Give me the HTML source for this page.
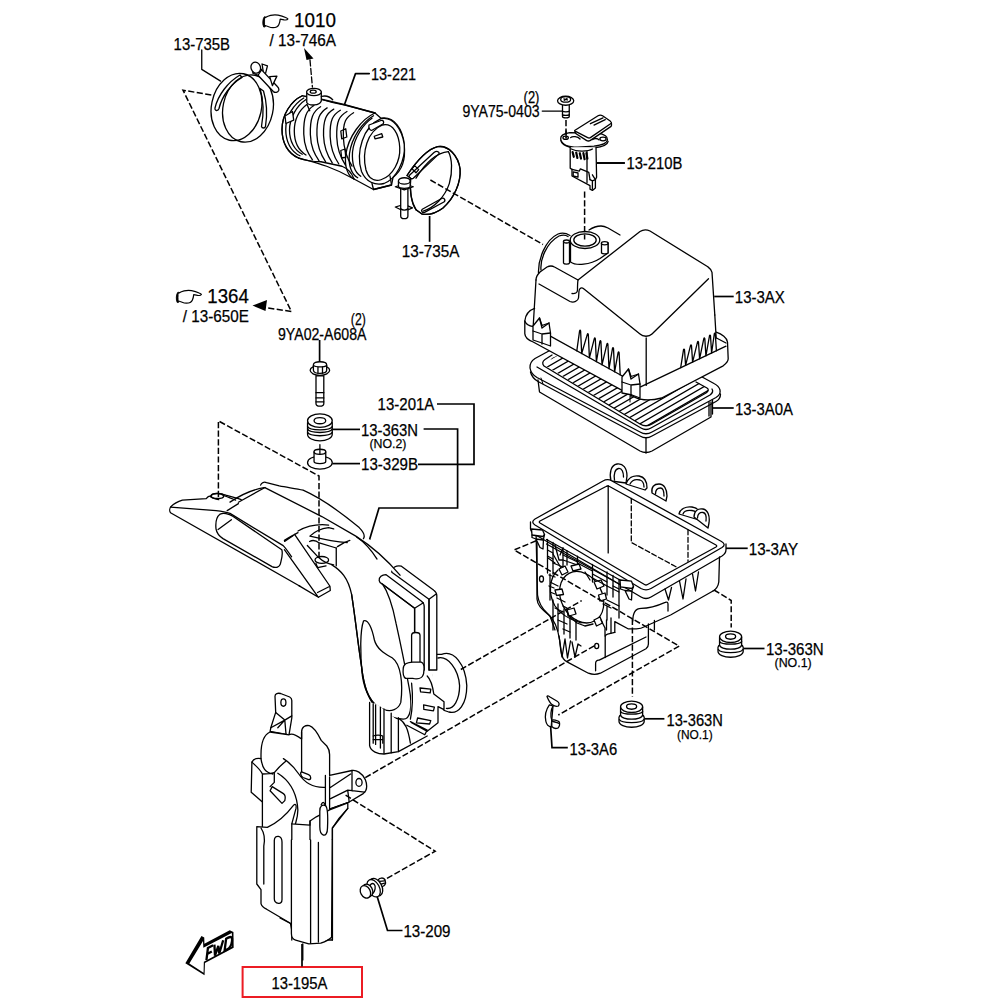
<!DOCTYPE html>
<html><head><meta charset="utf-8"><style>
html,body{margin:0;padding:0;background:#fff;}
svg{display:block;}
path,ellipse,circle,rect,line,polyline,polygon{vector-effect:non-scaling-stroke;}
text{font-family:"Liberation Sans",sans-serif;fill:#000;}
</style></head><body>
<svg width="1000" height="1000" viewBox="0 0 1000 1000">
<g id="labels" font-size="16" style="stroke:#000;stroke-width:0.25">
<text x="173.6" y="49.6" textLength="56.4" lengthAdjust="spacingAndGlyphs">13-735B</text>
<text x="294" y="27" font-size="20.8" textLength="42" lengthAdjust="spacingAndGlyphs">1010</text>
<text x="269.6" y="45.6" textLength="66.4" lengthAdjust="spacingAndGlyphs">/ 13-746A</text>
<text x="371" y="80" textLength="45" lengthAdjust="spacingAndGlyphs">13-221</text>
<text x="523.6" y="103" textLength="15.8" lengthAdjust="spacingAndGlyphs">(2)</text>
<text x="462.4" y="117" textLength="77.2" lengthAdjust="spacingAndGlyphs">9YA75-0403</text>
<text x="626.4" y="168.8" textLength="56" lengthAdjust="spacingAndGlyphs">13-210B</text>
<text x="401.8" y="257" textLength="57.6" lengthAdjust="spacingAndGlyphs">13-735A</text>
<text x="734.8" y="303.2" textLength="50" lengthAdjust="spacingAndGlyphs">13-3AX</text>
<text x="207.3" y="302.9" font-size="20.8" textLength="41.5" lengthAdjust="spacingAndGlyphs">1364</text>
<text x="182.8" y="321.6" textLength="66" lengthAdjust="spacingAndGlyphs">/ 13-650E</text>
<text x="350.8" y="324.6" textLength="15" lengthAdjust="spacingAndGlyphs">(2)</text>
<text x="278" y="339.6" textLength="88.4" lengthAdjust="spacingAndGlyphs">9YA02-A608A</text>
<text x="377.6" y="410" textLength="56.8" lengthAdjust="spacingAndGlyphs">13-201A</text>
<text x="735" y="414.5" textLength="58" lengthAdjust="spacingAndGlyphs">13-3A0A</text>
<text x="361" y="436.4" textLength="57" lengthAdjust="spacingAndGlyphs">13-363N</text>
<text x="369.4" y="448" font-size="13.5" textLength="37" lengthAdjust="spacingAndGlyphs">(NO.2)</text>
<text x="361" y="470.4" textLength="57" lengthAdjust="spacingAndGlyphs">13-329B</text>
<text x="748.7" y="554.7" textLength="49.5" lengthAdjust="spacingAndGlyphs">13-3AY</text>
<text x="766" y="654.8" textLength="57.7" lengthAdjust="spacingAndGlyphs">13-363N</text>
<text x="774.5" y="667" font-size="13.5" textLength="37.2" lengthAdjust="spacingAndGlyphs">(NO.1)</text>
<text x="666.5" y="725.8" textLength="56.3" lengthAdjust="spacingAndGlyphs">13-363N</text>
<text x="677" y="738.6" font-size="13.5" textLength="35.7" lengthAdjust="spacingAndGlyphs">(NO.1)</text>
<text x="569.5" y="754.5" textLength="47.6" lengthAdjust="spacingAndGlyphs">13-3A6</text>
<text x="403.4" y="936.5" textLength="47.1" lengthAdjust="spacingAndGlyphs">13-209</text>
<text x="271.4" y="989" textLength="56.1" lengthAdjust="spacingAndGlyphs">13-195A</text>
</g>
<rect x="242.6" y="967" width="119.4" height="30" fill="none" stroke="#ec1c24" stroke-width="2"/>
<g id="leaders" fill="none" stroke="#000" stroke-width="1.7">
<path d="M597 163H624.8"/>
<path d="M429.6 216V241.8"/>
<path d="M319.6 340V362"/>
<path d="M437 404H474V464.4H418"/>
<path d="M333 429.4H360"/>
<path d="M423.6 429H457.6V508H379L369.5 539.7"/>
<path d="M332.4 463.6H360"/>
<path d="M714.2 296.5H733.7"/>
<path d="M712.7 408H733.7"/>
<path d="M725.5 548.3H747.7"/>
<path d="M743.5 648.5H764.5"/>
<path d="M644.4 718.8H664.4"/>
<path d="M550.6 726L552 747.6H567.8"/>
<path d="M377 896L387.5 930.5H402.5"/>
<path d="M302 944V966.5"/>
<path d="M597 163H624.8"/>
</g>

<g id="parts" fill="none" stroke="#000" stroke-width="1.3" stroke-linejoin="round" stroke-linecap="round">
<!-- hand icons -->
<g id="hand1" transform="translate(262.6 16.5)">
<path d="M1.6 0.4C0 2 -0.4 8 1.2 10.6L2.7 10.2C2 8 2 3 2.7 0.8Z" fill="#000" stroke-width="0.9"/>
<path d="M2.5 1.1C4 0.3 6 -0.6 8 -1.1C10 -1.6 13 -1.7 15.5 -1.4C18 -1 21 0 23 1C24.5 1.6 25.5 2.2 25.2 2.6C24.8 3.4 23.5 3.7 21.5 3.4L17.6 2.6C17.5 4 17 6.5 16.2 8.3C15.5 9.8 13 11.2 10.4 11.2C8 11.2 6 10.2 4.7 9.7L2.5 9" fill="#fff" stroke-width="1.2"/>
</g>
<g id="hand2" transform="translate(176.1 292)">
<path d="M1.6 0.4C0 2 -0.4 8 1.2 10.6L2.7 10.2C2 8 2 3 2.7 0.8Z" fill="#000" stroke-width="0.9"/>
<path d="M2.5 1.1C4 0.3 6 -0.6 8 -1.1C10 -1.6 13 -1.7 15.5 -1.4C18 -1 21 0 23 1C24.5 1.6 25.5 2.2 25.2 2.6C24.8 3.4 23.5 3.7 21.5 3.4L17.6 2.6C17.5 4 17 6.5 16.2 8.3C15.5 9.8 13 11.2 10.4 11.2C8 11.2 6 10.2 4.7 9.7L2.5 9" fill="#fff" stroke-width="1.2"/>
</g>
<!-- clamp 13-735B -->
<g id="clampB">
<path d="M201.75 50V69.4L220.6 81.1"/>
<ellipse cx="236.5" cy="107" rx="25" ry="34" transform="rotate(12 236.5 107)"/>
<ellipse cx="248" cy="108.5" rx="25" ry="34" transform="rotate(12 248 108.5)"/>
<path d="M240 75C228 82 218 95 215 108C214.5 111 218 111.5 219 108.5C222 96 231 84 242 77.5Z"/>
<path d="M260 88.5C263.5 100 263.8 114 261.5 126.5C262 128.5 265 128.5 265.5 126.5C267.5 114 266.5 101 263.5 91Z"/>
<g transform="translate(195 55) scale(0.09)">
<path d="M745 100L805 120L770 260Z" fill="#fff"/>
<path d="M640 200L700 225L870 405C890 425 920 415 930 395C935 380 930 365 915 350L740 165L690 120Z" fill="#fff"/>
<path d="M830 240L910 235L860 340Z" fill="#fff"/>
<path d="M700 225L740 165"/>
<ellipse cx="675" cy="140" rx="52" ry="62" transform="rotate(-20 675 140)" fill="#fff"/>
</g>
</g>
<!-- 13-746A arrow -->
<path d="M304 48L306.5 60L313.5 58.5Z" fill="#000" stroke="none"/>
<path d="M310 60L312.4 87" stroke-dasharray="6 2.5"/>
<!-- hose 13-221 -->
<g id="hose">
<path d="M369.2 73.6H355.5L344.7 104" stroke-width="1.7"/>
<g transform="translate(270 80) scale(0.15)">
<path d="M215 105C140 140 80 230 80 330C80 420 120 490 190 520C300 550 400 570 560 660L690 730L810 700L820 650C880 600 905 540 895 430C885 330 830 240 740 255L700 220L500 165L350 130Z" fill="#fff"/>
<path d="M215 105C140 140 80 230 80 330C80 420 120 490 190 520"/>
<path d="M225 120C160 160 105 240 105 330C105 410 140 480 200 505"/>
<path d="M240 130C180 170 130 250 130 335C130 410 165 470 215 495"/>
<path d="M250 160C195 200 162 265 162 340C162 410 192 470 240 500"/>
<path d="M190 520C230 535 290 545 340 545L480 575C520 590 545 620 560 660"/>
<path d="M100 240L150 210L158 268L106 290Z" fill="#fff"/>
<path d="M345 130C400 148 450 160 500 168L700 220"/>
<path d="M293 170C243 200 222 250 225 360C228 445 253 487 283 532"/>
<path d="M337 178C287 208 266 254 269 364C272 449 297 494 327 539"/>
<path d="M381 186C331 216 310 258 313 368C316 453 341 501 371 546"/>
<path d="M425 194C375 224 354 262 357 372C360 457 385 508 415 553"/>
<path d="M469 202C419 232 398 266 401 376C404 461 429 515 459 560"/>
<path d="M513 210C463 240 442 270 445 380C448 465 473 522 503 567"/>
<path d="M557 218C507 248 486 274 489 384C492 469 517 529 547 574"/>
<path d="M472 340L505 325L512 380L478 392Z"/>
<path d="M472 470L500 460L505 515L478 520Z"/>
<path d="M700 220C610 260 520 380 505 500C495 580 520 640 560 660"/>
<path d="M690 238C620 278 545 380 530 490C520 570 545 630 585 652"/>
<path d="M680 255C625 290 560 385 550 480C545 560 565 615 605 642"/>
<path d="M610 610C570 480 620 310 740 258C820 240 880 330 895 430C905 540 840 660 760 690C700 705 640 680 610 610Z" fill="#fff"/>
<path d="M640 600C610 480 650 340 750 300C820 285 860 360 865 450C870 540 820 640 740 665C690 680 655 650 640 600Z"/>
<path d="M680 690L690 730L810 700L800 640"/>
<path d="M660 300L740 270C755 265 762 278 755 292L680 335C668 340 655 320 660 300Z" fill="#fff"/>
<path d="M695 375L745 358L752 380L700 392Z" fill="#fff"/>
<path d="M245 80V150C260 175 330 172 342 140V80" fill="#fff"/>
<path d="M250 170L265 205M342 110C370 102 400 112 418 132"/>
<ellipse cx="293" cy="80" rx="49" ry="24" fill="#fff"/>
<ellipse cx="288" cy="78" rx="20" ry="10"/>
</g>
</g>
<!-- clamp 13-735A -->
<g id="clampA" transform="translate(380 135) scale(0.09)">
<path d="M300 450C400 300 520 160 640 130C760 110 870 230 890 380C900 520 830 700 700 810C620 870 540 890 470 880L400 830C350 760 330 640 340 480Z" fill="#fff"/>
<path d="M300 450C400 300 520 160 640 130C760 110 870 230 890 380C900 520 830 700 700 810C620 870 540 890 470 880L400 830"/>
<path d="M760 185C800 260 810 400 770 540C720 690 600 810 480 845"/>
<path d="M400 480C480 350 600 200 760 185"/>
<path d="M325 450L600 195C625 175 665 180 655 210L370 480C350 495 315 475 325 450Z"/>
<path d="M385 340L430 385L400 420L355 375Z"/>
<path d="M470 825L685 705C710 690 735 725 710 745L495 860C470 870 450 840 470 825Z"/>
<path d="M340 480C330 600 335 720 400 830"/>
<path d="M170 800L270 770L360 810L270 850Z" fill="#fff"/>
<path d="M230 600V900C230 940 310 940 310 900V600" fill="#fff"/>
<path d="M230 820C250 840 290 840 310 820"/>
<path d="M170 575L270 545L370 575L270 610Z" fill="#fff"/>
<path d="M205 510V570C205 600 335 600 335 570V510" fill="#fff"/>
<ellipse cx="270" cy="510" rx="65" ry="35" fill="#fff"/>
</g>



<!-- screw 9YA75-0403 + sensor 13-210B (zoom 540,85 s11.11) -->
<g id="sensor" transform="translate(540 85) scale(0.09)">
<path d="M25 290H250"/>
<path d="M250 210V350C250 370 325 370 325 350V210" fill="#fff"/>
<path d="M250 290C260 300 315 300 325 290M250 330C260 340 315 340 325 330"/>
<ellipse cx="285" cy="175" rx="90" ry="50" fill="#fff"/>
<ellipse cx="285" cy="160" rx="55" ry="30"/>
<path d="M265 155L305 165M300 150L270 170"/>
<path d="M232 612C237 662 322 702 422 707L602 697C702 687 752 662 757 627" fill="#fff"/>
<path d="M230 600C225 560 270 540 330 530L640 535C720 545 755 575 750 610C745 650 690 670 600 680L420 690C320 690 240 660 230 600Z" fill="#fff"/>
<ellipse cx="285" cy="585" rx="30" ry="18"/>
<ellipse cx="700" cy="600" rx="35" ry="20"/>
<path d="M290 590V510"/>
<path d="M340 585C360 565 420 570 445 600M585 605C600 590 640 590 655 610"/>
<path d="M385 505L645 342C660 333 680 333 695 342L780 400C795 410 798 425 795 445L790 460L560 615C545 625 530 625 515 615L405 545C395 535 385 520 385 505Z" fill="#fff"/>
<path d="M395 515L530 585C540 590 550 590 560 585L788 428"/>
<path d="M560 430L700 365M600 445L725 385"/>
<path d="M360 740L380 790M400 750L415 800M440 755L455 805M480 760L492 810" stroke-width="2"/>
</g>
<g id="sensor2" transform="translate(530 140) scale(0.12)">
<path d="M335 60V235L350 245V300L500 380V410L520 420L545 400V330L555 310L550 60" fill="#fff"/>
<path d="M345 75C380 95 480 100 520 75M475 95V355"/>
<path d="M355 100L365 140M385 105L395 150M415 110L425 155M445 110L455 160M470 110L478 155" stroke-width="2.2"/>
<path d="M350 245L410 260L420 240L490 270L500 330M360 265V300L400 310V275Z"/>
<path d="M500 330L520 340V410M520 340L545 330"/>
<path d="M545 330L520 290"/>
</g>
<!-- filter 13-3A0A -->
<g id="filter">
<clipPath id="fclip"><path d="M546,366 L640,424 Q646,427.5 652,424 L706,393 Q710,390 707,388 L612,331 L552,358Z"/></clipPath>
<path d="M547,352 L535,358.5 Q529.5,362 530,368 Q531,374 537,377.5 L640,432 Q646,435.5 652,432 L716,397.5 Q721,394.5 720,390 Q719,386 714,383.5 L660,354 L560,345Z" fill="#fff"/>
<path d="M530.5,372 Q532,378 538,381.5 L640,436 Q646,439.5 652,436 L716,401.5 Q720.5,399 720.5,394"/>
<path d="M538,380 L539.5,392 L640,451 Q646,454 652,451 L711,417 L711,402"/>
<path d="M646,438 V453"/>
<path d="M709,402V416M712.5,400V414"/>
<path d="M552,355 L545,359.5 Q541,362.5 544,366 L640,424 Q646,427.5 652,424 L706,393 Q710,390 707,388 L696,382"/>
<path d="M537,367 L641,428 Q646,431 651,428 L710,395 Q714,392 712,389"/>
<path clip-path="url(#fclip)" d="M434.0 359.2L574.0 278.0M439.2 362.3L579.2 281.1M444.4 365.4L584.4 284.2M449.6 368.6L589.6 287.4M454.8 371.7L594.8 290.5M460.0 374.8L600.0 293.6M465.2 377.9L605.2 296.7M470.4 381.0L610.4 299.8M475.6 384.2L615.6 303.0M480.8 387.3L620.8 306.1M486.0 390.4L626.0 309.2M491.2 393.5L631.2 312.3M496.4 396.6L636.4 315.4M501.6 399.8L641.6 318.6M506.8 402.9L646.8 321.7M512.0 406.0L652.0 324.8M517.2 409.1L657.2 327.9M522.4 412.2L662.4 331.0M527.6 415.4L667.6 334.2M532.8 418.5L672.8 337.3M538.0 421.6L678.0 340.4M543.2 424.7L683.2 343.5M548.4 427.8L688.4 346.6M553.6 431.0L693.6 349.8M558.8 434.1L698.8 352.9M564.0 437.2L704.0 356.0M569.2 440.3L709.2 359.1M574.4 443.4L714.4 362.2M579.6 446.6L719.6 365.4M584.8 449.7L724.8 368.5M590.0 452.8L730.0 371.6M595.2 455.9L735.2 374.7M600.4 459.0L740.4 377.8M605.6 462.2L745.6 381.0M610.8 465.3L750.8 384.1M616.0 468.4L756.0 387.2M621.2 471.5L761.2 390.3M626.4 474.6L766.4 393.4M631.6 477.8L771.6 396.6M636.8 480.9L776.8 399.7M642.0 484.0L782.0 402.8M647.2 487.1L787.2 405.9M652.4 490.2L792.4 409.0M657.6 493.4L797.6 412.2M662.8 496.5L802.8 415.3"/>
</g>
<!-- cover inlet -->
<g id="coverTop" transform="translate(520 220) scale(0.1)">
<path d="M185 530C180 400 250 200 380 140C420 125 460 130 500 155" fill="#fff"/>
<path d="M210 500C200 400 260 230 390 160C430 145 460 150 480 165"/>
<path d="M690 100C720 80 760 60 810 60C840 60 860 70 880 80L1000 150" />
<path d="M505 200V420C560 460 700 450 800 385L880 330V230" fill="#fff"/>
<ellipse cx="650" cy="200" rx="148" ry="85" fill="#fff"/>
<ellipse cx="650" cy="200" rx="112" ry="62"/>
<path d="M435 215V430C440 445 490 445 495 430V215Z" fill="#fff"/>
<ellipse cx="465" cy="215" rx="30" ry="15" fill="#fff"/>
<path d="M815 230V330C830 345 870 340 880 330V230" fill="#fff"/>
<ellipse cx="847" cy="232" rx="33" ry="16" fill="#fff"/>
</g>
<!-- cover 13-3AX -->
<g id="cover">
<path d="M534.6,308.4 C530,310 525.5,314 524.8,321 L524.8,333.6 C525,337 528,340 533.2,342 L633.6,396.6 C640,400 650,401 661.6,398 L723.2,365.8 C727,363 728.2,361 728.2,358.8 L727.5,342 C727,338 722,334 716.2,332.2 L714.8,315 L712,272.4 C711,269 709.5,268 707.8,266.8 L650,231 C647,229.5 643,229.5 640,231.5 L600,261.2 L578,280 L554.5,267 C552,265.5 550,265.5 547,267 L540,272 C538,274 536,276 536,280 Z" fill="#fff" stroke="none"/>
<path d="M534.6,308.4 C530,310 525.5,314 524.8,321 L524.8,333.6 C525,337 528,340 533.2,342 L633.6,396.6 C640,400 650,401 661.6,398 L723.2,365.8 C727,363 728.2,361 728.2,358.8 L727.5,342 C727,338 722,334 716.2,332.2"/>
<path d="M524.8,321 C526,324 529,326 533.2,326.6 L622.8,376.3"/>
<path d="M640.6,386.8 L726,346.2 M716.5,338 L726,343"/>
<path d="M536,280 L533.2,326 M714.8,315 L716.2,338"/>
<path d="M536,280 C536,276 538,274 540,272 L547,267 C550,265.5 552,265.5 554.5,267 L578,280 L640,231.5 C643,229.5 647,229.5 650,231 L707.8,266.8 C709.5,268 711,269 712,272.4 L714.8,315"/>
<path d="M578,280 C577.5,283 577.5,287 577.5,290 C577.5,293 575,293.8 572,293.5"/>
<path d="M539,284 L570,301.5 C574,303 578,301 578.5,298 L579,291 C579.5,288 581.5,287 584,289 L640,334 C643,337 649,337 652,334 L708.5,278.7"/>
<path d="M646.2,338 V385.4"/>
<path d="M541,378L543,384M630,396V402" stroke-width="1"/>
<path d="M576.8,350.8 L579.6,330.9 Q580.1,329.5 580.6,330.9 L581.7,353.5 L587.3,334.4 Q587.8,333.0 588.3,334.4 L589.4,357.8 L594.3,338.6 Q594.8,337.2 595.3,338.6 L596.4,361.7 L599.9,341.4 Q600.4,340.0 600.9,341.4 L602.0,364.8 L606.9,344.2 Q607.4,342.8 607.9,344.2 L609.0,368.6 L612.5,348.4 Q613.0,347.0 613.5,348.4 L614.6,371.8 L618.1,352.6 Q618.6,351.2 619.1,352.6 L620.2,374.9"/>
<path d="M680.7,367.7 L683.5,349.8 Q684.0,348.4 684.5,349.8 L685.6,365.4 L690.5,345.6 Q691.0,344.2 691.5,345.6 L692.6,362.1 L697.5,342.1 Q698.0,340.7 698.5,342.1 L699.6,358.8 L703.8,338.6 Q704.3,337.2 704.8,338.6 L705.9,355.8 L709.5,335.8 Q710.0,334.4 710.5,335.8 L711.6,353.0 L714.3,333.8 Q714.8,332.4 715.3,333.8 L716.4,350.8"/>
<path d="M533,326 L539.5,318 L542,328 L549,323 L550.5,333 L550.5,346 L542,343 L533,340 Z" fill="#fff"/>
<path d="M539.5,318 L542,325.5 L549,323 M533,331 L542,334 L550.5,333 M542,334 V344"/>
<path d="M622,377 L628.5,369 L631,379 L638.5,374 L640,384 L640,398 L632,395 L622,393 Z" fill="#fff"/>
<path d="M628.5,369 L631,376.5 L638.5,374 M622,382 L631,385 L640,384 M631,385 V397"/>
</g>


<!-- duct 13-201A -->
<g id="duct2" transform="translate(300 520) scale(0.24)">
<path d="M590 560C640 540 690 600 695 690C695 770 660 810 620 800L560 780L540 560Z" fill="#fff"/>
<path d="M575 575C615 565 660 620 665 690C665 750 640 790 610 785"/>
<path d="M133 187C170 210 200 240 215 310C232 420 242 520 255 600C265 690 280 730 300 760V940C300 955 320 965 340 965L400 960L600 880L605 820L550 640L565 570V310C565 295 555 285 545 280L420 195C405 188 395 192 390 200L360 200C340 160 310 110 290 90Z" fill="#fff" stroke="none"/>
<path d="M133 187C170 210 200 240 215 310C232 420 242 520 255 600C265 690 280 730 300 760"/>
<path d="M215 310C232 420 242 520 255 600C265 690 280 740 330 790C360 815 400 830 430 830C460 830 470 780 455 700C440 620 420 520 400 430C385 350 360 290 340 260"/>
<path d="M265 420C285 415 300 450 310 500C320 540 360 560 385 575C420 600 430 680 420 760C410 790 380 800 350 790C300 770 270 720 260 650C250 560 250 460 265 420Z"/>
</g>
<g id="duct3" transform="translate(360 640) scale(0.12)">
<path d="M80 520V880C90 930 150 950 200 950L320 930L560 800V700L700 580V510L620 450C610 380 600 330 570 300L540 340L430 360L420 660L340 690L200 580L130 530Z" fill="#fff" stroke="none"/>
<path d="M80 520V880C90 930 150 950 200 950L320 930L560 800"/>
<path d="M110 530V860M130 540V870M170 560V900M200 575V945M260 610V940M320 650V930"/>
<path d="M110 800C130 790 170 790 190 800V860M110 830H190"/>
<path d="M320 650C380 690 400 740 420 860"/>
<path d="M430 360C440 450 440 560 420 660M560 300C590 330 605 380 615 450L700 515V580L650 555V690L560 760"/>
<path d="M500 400L590 410L585 440L505 432Z"/>
<path d="M530 540L620 560L612 590L532 578Z"/>
<path d="M480 650L590 672L580 700L470 690Z"/>
<path d="M390 710L540 790L560 750L420 680M430 690L550 755"/>
</g>
<g id="panel" transform="translate(360 550) scale(0.12)">
<path d="M265 175C265 150 300 125 345 135L615 335C632 347 640 362 640 380V1000H575V410L265 185Z" fill="#fff"/>
<path d="M575 410L632 368M575 410V1000"/>
<path d="M160 255C155 225 185 205 215 205L510 425C528 438 535 450 535 470V1000H455V485L180 280C170 275 162 265 160 255Z" fill="#fff"/>
<path d="M180 280L455 485V1000M455 485L528 440"/>
</g>
<g transform="translate(300 520) scale(0.24)">
<path d="M465 480C465 465 500 465 500 480V600H465Z" fill="#fff"/>
<path d="M430 620C430 600 450 592 470 592H505C515 595 520 610 515 640C510 660 490 665 470 660H440C432 655 428 640 430 620Z" fill="#fff"/>
</g>
<g id="duct1">
<g transform="translate(230 480) scale(0.17)">
<path d="M0 130C60 90 140 55 180 30L430 60C520 100 640 180 760 280L1000 560L890 500L745 335L705 355L625 400V505L600 500L520 455L455 385L320 410L0 220Z" fill="#fff" stroke="none"/>
</g>
<g transform="translate(160 470) scale(0.14)">
<path d="M80 260C100 240 130 225 160 215L330 205L380 172L560 205L750 125L760 85L1000 140L1000 830L75 305C65 290 70 270 80 260Z" fill="#fff" stroke="none"/>
<path d="M80 260C70 270 65 290 75 305L1000 830"/>
<path d="M80 260C100 240 130 225 160 215L330 205C340 190 350 185 362 185L380 172C400 165 440 170 470 180L560 205L580 212"/>
<path d="M360 190C380 200 400 210 420 212M440 175C470 190 520 205 540 215"/>
<ellipse cx="410" cy="185" rx="45" ry="18"/>
<path d="M75 265L400 290C440 295 470 300 500 310L880 540C900 560 920 590 940 620"/>
<path d="M430 315C410 330 395 370 400 420C405 450 420 470 450 490L800 690C830 705 855 690 860 670C870 630 880 600 870 570L520 330C490 310 450 305 430 315Z"/>
<path d="M415 425L510 355M480 290L560 240M890 510L950 470" stroke-dasharray="30 18"/>
<path d="M560 230L750 125"/>
</g>
<g transform="translate(230 480) scale(0.17)">
<path d="M0 130C60 90 140 55 200 45"/>
<path d="M180 30C185 15 200 10 215 15L290 35C340 45 390 50 430 60C520 100 640 180 760 280C790 310 795 330 785 345"/>
<path d="M205 45L540 215L740 330C850 400 950 500 1000 560"/>
<path d="M320 410L520 690L590 650L588 625L515 662M380 320L588 625M405 621L520 690"/>
<path d="M320 355C345 340 370 325 400 310M400 300C450 272 520 258 580 265"/>
<path d="M470 330C500 300 540 285 580 280L610 288M470 330C520 342 600 362 690 368"/>
<path d="M468 362C485 352 505 355 525 370L625 400M455 385L520 455C545 478 575 495 610 500"/>
<ellipse cx="540" cy="470" rx="40" ry="20"/>
<path d="M505 490L515 515L565 505"/>
<path d="M625 400V505M632 392C660 372 680 362 705 355"/>
<path d="M745 335C790 365 830 410 865 465"/>
</g>
</g>
<!-- box 13-3AY -->
<g id="box">
<!-- lugs -->
<g fill="#fff">
<path d="M611,481 C609,473 611,465 617,464 C623,463 627,468 627,476 L626,483Z"/><path d="M614.5,480 C613.5,474 615,469 618.5,468.5 C622,468 623.5,472 623.5,477"/>
<path d="M626,484 C628,478 633,475 639,476 C645,477 647,482 647,488 L645,490Z"/><path d="M630,484 C632,480 636,479 640,480 C643,481 644,484 644,487"/>
<path d="M652,493 C651,487 654,484 659,484 C664,484 667,489 667,496 L666,501Z"/><path d="M655.5,494 C655.5,490 657.5,488 660.5,488 C663,488 664,491 664,496"/>
<path d="M679,514 C680,509 686,506 692,507 C698,508 701,512 701,518 L699,520Z"/><path d="M683,514 C684,511 688,510 692,510.5 C696,511 697.5,514 697.5,517"/>
<path d="M694,517 C694,511 698,508 703,509 C708,510 710,516 709,523 L708,528Z"/><path d="M697.5,518 C697.5,514 700,512 703,512.5 C706,513 706.5,517 706,521"/>
</g>
<path d="M530.5,522 V529 Q531,532.5 535,534.5 L641,597 Q646,600 651,597 L722,556 Q726,553.5 726,549.5 V544" fill="#fff"/>
<path d="M603,481 Q607.6,478.3 612,481 L721.5,541.5 Q726.5,544.5 722,547.5 L651,588.5 Q646,591.3 641,588.5 L535,525 Q530.5,522 535,519 Z" fill="#fff"/>
<path d="M606,486.5 Q607.6,485.5 609.5,486.5 L716,545 Q717.5,546 716,547 L647.5,584.5 Q646,585.5 644.5,584.5 L540,523 Q538.5,522 540,521 Z"/>
<path d="M608.2,485.7 V552.9"/>
<path d="M631.3,498.3 V542.4 L677.5,567.6 M688,529.8 V561.3" stroke-dasharray="5 2.5"/>
<!-- right face -->
<path d="M719.5,557 L718.8,582 Q718,588 713,591"/>
<path d="M665,589 L668.5,600 L671.5,587.5 M679.5,581 L683,599 L686,579 M692.5,574 L695.5,591 L698.5,572"/>
<!-- left face outline -->
<path d="M536,531 L537.5,595 Q539,606 548,614 Q557,622 559.6,640 L560.8,650.4 C561.4,656.4 564.4,661 568,662.4 L588.4,673.2 Q594.4,675.6 600.4,673.2 L646,648.8 Q648.4,647 648.4,644 V636"/>
<path d="M595.6,670.8 V663.4 Q595.6,660 599.2,660.2 L646,637"/>
<path d="M605.2,657.6 V636.5 Q605.2,634.8 607.6,634.2 L614.8,632.4"/>
<path d="M614.8,621.6 V632.4 M614.8,621.6 L628,628.8 H636.4 Q641,628.8 645,626.5 L670.6,615 C676,612 690,604 713,591"/>
<path d="M632.8,621 C632.8,612 636.4,608.4 641.2,608.4 C648.4,608.4 654.4,607.2 665.2,602.4 C667,601.5 668,602.5 668,604 V611"/>
<path d="M654.4,620.4 V630 M648.4,636 V624"/>
</g>
<g id="boxribs" transform="translate(525 530) scale(0.1)">
<path d="M65 -10L175 0L195 45L180 65L70 50Z" fill="#fff"/>
<path d="M70 50V75L110 90L150 175L180 190L185 90L195 45M110 90L180 100"/>
<path d="M950 500L1065 512L1085 565L1068 585L955 568Z" fill="#fff"/>
<path d="M955 568V590L1000 605L1040 690L1065 700L1070 605L1085 565M1000 605L1065 612"/>
<path d="M215 95L950 500M215 140L950 545"/>
<ellipse cx="567" cy="672" rx="205" ry="270" transform="rotate(-28 567 672)" fill="#fff"/>
<path d="M330 400C240 480 230 640 300 760C360 850 460 900 560 930"/>
<path d="M225 95V430M280 125V440M380 180V390M525 262V395M675 345V520M820 420V650M880 455V670M940 495V880"/>
<path d="M120 130V690C125 760 170 790 250 860L300 1000"/>
<ellipse cx="165" cy="490" rx="20" ry="30"/>
<path d="M280 240L360 380M300 150L340 300L380 300M420 210V350M225 260L280 290M380 300L525 350M675 440L820 520M820 560L940 620"/>
<path d="M340 390L400 360L430 420L370 450Z" fill="#fff"/>
<path d="M460 360L540 340L560 390L480 410Z" fill="#fff"/>
<path d="M690 520L760 500L790 560L720 590Z" fill="#fff"/>
<path d="M735 650L800 630L815 690L750 710Z" fill="#fff"/>
<path d="M690 900L750 870L775 930L715 960Z" fill="#fff"/>
<path d="M420 800L490 780L510 840L440 860Z" fill="#fff"/>
<path d="M300 600L370 590L385 645L315 655Z" fill="#fff"/>
<path d="M250 440V700M250 520L330 560M250 620L300 640M320 680L400 720M380 760L420 780L430 860M440 860L520 930L600 960M600 960L680 940"/>
<path d="M280 700V1000M330 740V1010M390 790V1040M450 860V1080M510 900V1100"/>
<path d="M340 1060L370 1270L400 1090L425 1280L455 1110M470 1120L500 1270L530 1140L560 1160"/>
<ellipse cx="717" cy="1160" rx="20" ry="26"/>
<path d="M760 900L800 980L800 1060M815 900V1000M860 880V1030"/>
<path d="M225 200L280 230M280 330L380 370M380 250L525 320M525 330L675 410M675 480L820 560M820 700L940 760M880 560L940 590"/>
<path d="M240 450L300 470M240 560L290 580M300 780L380 820M330 900L420 940M380 990L450 1020M820 760V900M780 740L860 780"/>
<path d="M230 280L300 330M600 420L650 500M350 250L380 180"/>
</g>
<!-- bolt, grommet NO.2, collar -->
<g id="bolt" transform="translate(290 355) scale(0.13)">
<path d="M200 160V375C200 400 260 400 260 375V160Z" fill="#fff"/>
<path d="M200 290H260M200 330H260M200 360H260"/>
<ellipse cx="230" cy="118" rx="75" ry="38" fill="#fff"/>
<path d="M180 118V75C180 58 205 52 230 52C255 52 282 58 282 75V118C282 135 255 142 230 142C205 142 180 135 180 118Z" fill="#fff"/>
<path d="M180 80C195 95 265 95 282 80M215 90V140M250 90V140"/>
<path d="M135 520V610C135 640 180 660 230 660C280 660 325 640 325 610V520" fill="#fff"/>
<ellipse cx="230" cy="505" rx="95" ry="52" fill="#fff"/>
<ellipse cx="230" cy="505" rx="45" ry="24"/>
<path d="M135 550C150 585 310 585 325 550M135 570C150 605 310 605 325 570M135 595C150 630 310 630 325 595"/>
<ellipse cx="230" cy="828" rx="95" ry="50" fill="#fff"/>
<path d="M185 745V820C185 840 275 840 275 820V745" fill="#fff"/>
<ellipse cx="230" cy="745" rx="45" ry="20" fill="#fff"/>
<path d="M230 690V760"/>
</g>
<!-- 13-195A -->
<g id="r195a" transform="translate(240 690) scale(0.14)">
<path d="M250 45C250 25 270 20 290 25L355 50C365 55 370 60 370 75V200L350 320L215 295L220 270L255 160Z" fill="#fff"/>
<ellipse cx="310" cy="90" rx="18" ry="26"/>
<path d="M255 160L320 215L370 185M220 270L320 215M270 270L320 215L330 330"/>
<path d="M215 300C170 320 150 380 150 460V490C120 485 95 495 85 515L80 730L160 800V1000H640V850L780 800L880 740C905 720 910 680 895 640C870 590 830 570 800 575L640 610V460C640 440 635 420 620 400L580 360C560 320 530 265 495 255C470 250 440 260 440 300V350C400 320 370 305 350 320Z" fill="#fff"/>
<path d="M440 300V600M150 490C160 560 180 590 235 600M85 515C110 540 140 560 160 600V800M160 600C200 600 230 595 245 590"/>
<path d="M310 490C340 510 380 540 420 600C460 660 520 700 610 695"/>
<path d="M245 590C270 560 300 530 325 510M245 590V660L215 690"/>
<path d="M440 585L490 605C510 615 510 640 490 640L450 625C430 615 430 585 440 585Z" fill="#fff"/>
<path d="M610 610V850M640 620V850M640 700L790 600M640 780L770 715L890 730M800 575V720M640 850L780 800L770 720"/>
<ellipse cx="850" cy="660" rx="22" ry="28"/>
<path d="M230 690L310 740C325 750 325 770 320 790L300 810L215 720Z"/>
<path d="M270 595C310 620 390 680 410 820C420 870 400 950 380 1000M580 820C590 790 610 800 610 850V1000M500 1000C510 960 530 920 580 900"/>
</g>
<g id="r195b" transform="translate(240 800) scale(0.14)">
<path d="M120 190V600L150 640V740C155 760 170 770 190 780L360 880L370 930C370 960 385 990 420 1000L500 1000L660 1000V200L770 60V20L640 70L545 120L500 150V180L370 170L400 60C405 30 395 25 380 40C320 120 250 170 195 195Z" fill="#fff"/>
<path d="M150 200C170 230 180 280 170 330V600"/>
<path d="M245 290C245 265 260 258 275 260C295 265 300 280 300 300V710C300 730 290 740 275 738C255 735 245 725 245 705Z"/>
<path d="M370 170V1000M500 150V1000M560 300V1000M660 200V1000M660 200C690 150 730 100 770 60"/>
<path d="M570 80C570 40 590 30 610 40C625 50 630 90 625 200C625 240 610 255 595 250C575 245 570 220 570 190Z" fill="#fff"/>
</g>
<g id="r195c" transform="translate(280 840) scale(0.12)">
<path d="M95 0V780C95 810 110 830 130 835L240 865L340 860L430 810L435 0Z" fill="#fff" stroke="none"/>
<path d="M95 0V780C95 810 110 830 130 835L240 865L340 860C380 845 410 830 430 810L435 0"/>
<path d="M255 0V860M320 20V850M0 650L95 700"/>
<path d="M190 865V1000"/>
</g>
<!-- fastener 13-209 -->
<g id="f209" transform="translate(280 840) scale(0.12)">
<path d="M820 330C830 315 860 310 875 330L880 360C875 380 860 390 840 390Z" fill="#fff"/>
<path d="M830 345L870 340M835 370L872 360"/>
<ellipse cx="800" cy="392" rx="48" ry="78" transform="rotate(-28 800 392)" fill="#fff"/>
<ellipse cx="780" cy="402" rx="48" ry="78" transform="rotate(-28 780 402)" fill="#fff"/>
<path d="M745 395C750 365 770 355 785 368C800 385 795 430 770 450" fill="#fff"/>
<ellipse cx="730" cy="420" rx="40" ry="55" transform="rotate(-28 730 420)" fill="#fff"/>
<ellipse cx="712" cy="432" rx="40" ry="55" transform="rotate(-28 712 432)" fill="#fff"/>
</g>
<!-- grommets NO.1 + clip -->
<g id="grom1" transform="translate(535 685) scale(0.12)">
<path d="M700 268V302C700 332 750 352 805 352C860 352 910 332 910 302V268C910 248 860 236 805 236C750 236 700 248 700 268Z" fill="#fff"/>
<path d="M703 288C718 322 892 322 907 288"/>
<path d="M713 185V248C713 272 760 285 805 285C850 285 897 272 897 248V185Z" fill="#fff"/>
<path d="M713 222C730 250 880 250 897 222"/>
<ellipse cx="805" cy="182" rx="92" ry="47" fill="#fff"/>
<ellipse cx="805" cy="180" rx="42" ry="22"/>
</g>
<g id="grom2" transform="translate(634 615) scale(0.12)">
<path d="M700 268V302C700 332 750 352 805 352C860 352 910 332 910 302V268C910 248 860 236 805 236C750 236 700 248 700 268Z" fill="#fff"/>
<path d="M703 288C718 322 892 322 907 288"/>
<path d="M713 185V248C713 272 760 285 805 285C850 285 897 272 897 248V185Z" fill="#fff"/>
<path d="M713 222C730 250 880 250 897 222"/>
<ellipse cx="805" cy="182" rx="92" ry="47" fill="#fff"/>
<ellipse cx="805" cy="180" rx="42" ry="22"/>
</g>
<g id="clip" transform="translate(535 685) scale(0.12)">
<path d="M100 95C100 88 112 90 125 100L185 135C202 145 205 162 195 175C180 182 160 176 145 165C130 155 110 120 100 95Z" fill="#fff"/>
<path d="M120 165C95 200 80 250 90 300C95 330 110 345 135 350L150 175Z" fill="#fff"/>
<path d="M150 175C130 205 128 260 140 295"/>
<path d="M140 295C150 285 185 295 200 305C210 320 205 350 190 360C170 365 150 360 140 345Z" fill="#fff"/>
<path d="M140 300C160 305 185 315 200 320"/>
</g>
<!-- FWD -->
<g id="fwd" transform="translate(175 920) scale(0.07)">
<path d="M148 618L378 228L418 250L420 340L782 145L835 172L838 398L428 615L422 790Z" fill="#000" stroke="none"/>
<path d="M205 622L400 300L405 398L812 186L815 380L412 595L408 755Z" fill="#fff" stroke="none"/>

</g>
<g transform="translate(205.5 960.5) skewY(-27) scale(0.93 0.98)" stroke-width="2.3" stroke-linecap="butt" stroke-linejoin="miter">
<path d="M1 0L2.6 -11.5H8.2M1.8 -5.8H6.8"/>
<path d="M9.6 -11.5L10.2 0L13.8 -8.2L14.8 0L19 -11.5"/>
<path d="M20.5 0L22.2 -11.5H24.5C28 -11.5 29 -9 28.5 -6C28 -2 26 0 23 0Z"/>
</g>
</g>
<g id="dashes" fill="none" stroke="#000" stroke-width="1.5" stroke-dasharray="6.2 2.4">
<path d="M211.3 95L183 90.2L291.4 311.5L262 307"/>
<path d="M430.4 180L543 244.5"/>
<path d="M584.6 191.6V239.6M566 120V138"/>
<path d="M218.4 497V420.9L319 476V559.6"/>
<path d="M536.2 540.8L514.1 549.9L679.2 646.1L558.3 715"/>
<path d="M460.8 669.5L581.7 600.6M365.3 777.6L596 644.8M632.4 618.8V696.8"/>
<path d="M714 590L731.2 600.5V627.5"/>
<path d="M345.6 795.2L435.2 851.2L384 880"/>
</g>
<path d="M252.5 305.5L267 300L265.5 311Z" fill="#000"/>
</svg>
</body></html>
